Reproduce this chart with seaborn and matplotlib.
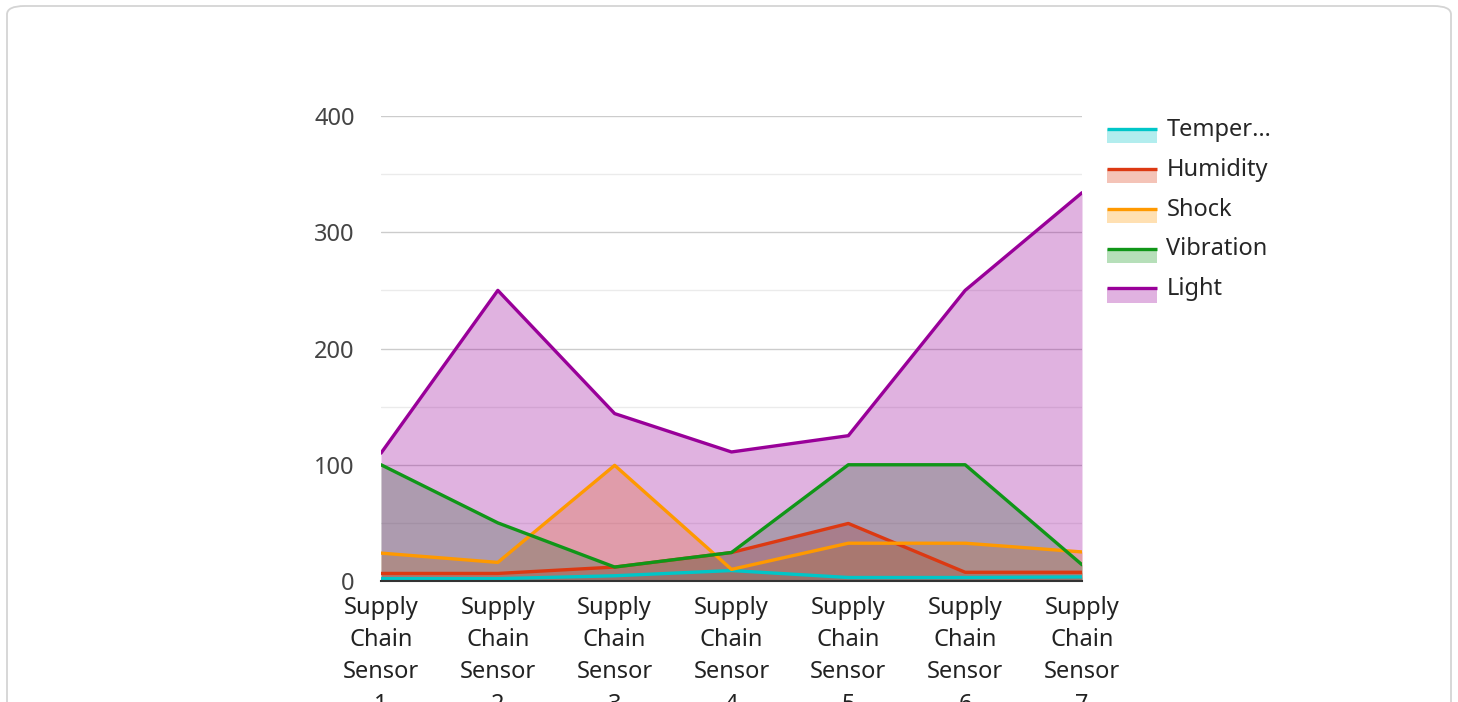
import seaborn as sns
import matplotlib.pyplot as plt
import pandas as pd
from matplotlib.patches import Rectangle, FancyBboxPatch
from matplotlib.lines import Line2D

sensors = [f"Supply Chain Sensor {i}" for i in range(1, 8)]
series_names = ["Temperature", "Humidity", "Shock", "Vibration", "Light"]
legend_labels = ["Temper…", "Humidity", "Shock", "Vibration", "Light"]
temperature = [2, 2, 4.5, 9, 3, 3, 3.5]
humidity = [6.5, 6.5, 12, 24.5, 49.5, 7.5, 7.5]
shock = [24, 16, 99.5, 10, 32.5, 32.5, 25]
vibration = [100, 50, 12, 24.5, 100, 100, 14]
light = [110, 250, 144, 111, 125, 250, 334]
colors = ["#00c6c8", "#dc3912", "#ff9900", "#109618", "#990099"]
y_ticks = [0, 100, 200, 300, 400]

values = [temperature, humidity, shock, vibration, light]
pos = list(range(len(sensors)))
df = pd.DataFrame({
    "pos": pos * len(series_names),
    "value": [v for vals in values for v in vals],
    "series": [s for s in series_names for _ in sensors],
})

FS = 17


class AreaHandle:
    # legend key: light fill block with the line across its top
    def __init__(self, color):
        self.color = color

    def legend_artist(self, legend, orig_handle, fontsize, handlebox):
        x0, y0 = -handlebox.xdescent, -handlebox.ydescent
        w, h = handlebox.width, handlebox.height
        tr = handlebox.get_transform()
        rect = Rectangle((x0, y0 - h * 0.6), w, h, facecolor=orig_handle.color,
                         alpha=0.3, edgecolor="none", transform=tr)
        line = Line2D([x0, x0 + w], [y0 + h * 0.4, y0 + h * 0.4],
                      color=orig_handle.color, lw=2.4,
                      solid_capstyle="butt", transform=tr)
        handlebox.add_artist(rect)
        handlebox.add_artist(line)
        return rect


sns.set_style("white")
plt.rcParams["font.family"] = ["Noto Sans", "DejaVu Sans"]

fig = plt.figure(figsize=(14.58, 7.02), dpi=100)
ax = fig.add_axes([381 / 1458, 121 / 702, 701 / 1458, 465 / 702])

card = FancyBboxPatch((7 / 1458, -0.05), 1444 / 1458, 0.05 + 696 / 702,
                      boxstyle="round,pad=0,rounding_size=0.012",
                      transform=fig.transFigure, facecolor="white",
                      edgecolor="#d4d4d4", linewidth=1.3, zorder=-10)
fig.patches.append(card)

for vals, c in zip(values, colors):
    ax.fill_between(pos, 0, vals, color=c, alpha=0.3, linewidth=0, zorder=2)

sns.lineplot(data=df, x="pos", y="value", hue="series", palette=colors,
             hue_order=series_names, linewidth=2.4, legend=False, ax=ax, zorder=3)

ax.set_xlim(0, len(sensors) - 1)
ax.set_ylim(0, 400)
ax.set_yticks(y_ticks)
ax.set_yticks([50, 150, 250, 350], minor=True)
ax.set_yticklabels([str(t) for t in y_ticks], fontsize=FS, color="#444444")
ax.set_xticks(pos)
ax.set_xticklabels([s.replace(" ", "\n") for s in sensors], fontsize=FS,
                   color="#222222", linespacing=1.45)
ax.tick_params(axis="x", length=0, pad=11)
ax.tick_params(axis="y", which="both", length=0, pad=19)
ax.grid(axis="y", which="major", color="#cccccc", linewidth=1, zorder=1)
ax.grid(axis="y", which="minor", color="#ebebeb", linewidth=1, zorder=1)
ax.set_axisbelow(True)
ax.set_xlabel("")
ax.set_ylabel("")
for side in ["top", "right", "left"]:
    ax.spines[side].set_visible(False)
ax.spines["bottom"].set_color("#333333")
ax.spines["bottom"].set_linewidth(1.5)
ax.spines["bottom"].set_zorder(4)

handles = [AreaHandle(c) for c in colors]
ax.legend(handles, legend_labels,
          handler_map={AreaHandle: handles[0]},
          loc="upper left", bbox_to_anchor=(1107 / 1458, (702 - 118) / 702),
          bbox_transform=fig.transFigure, frameon=False, fontsize=FS,
          handlelength=2.1, handleheight=0.55, labelspacing=0.67,
          handletextpad=0.42, borderpad=0, borderaxespad=0)

fig.savefig("out.png", dpi=100)
